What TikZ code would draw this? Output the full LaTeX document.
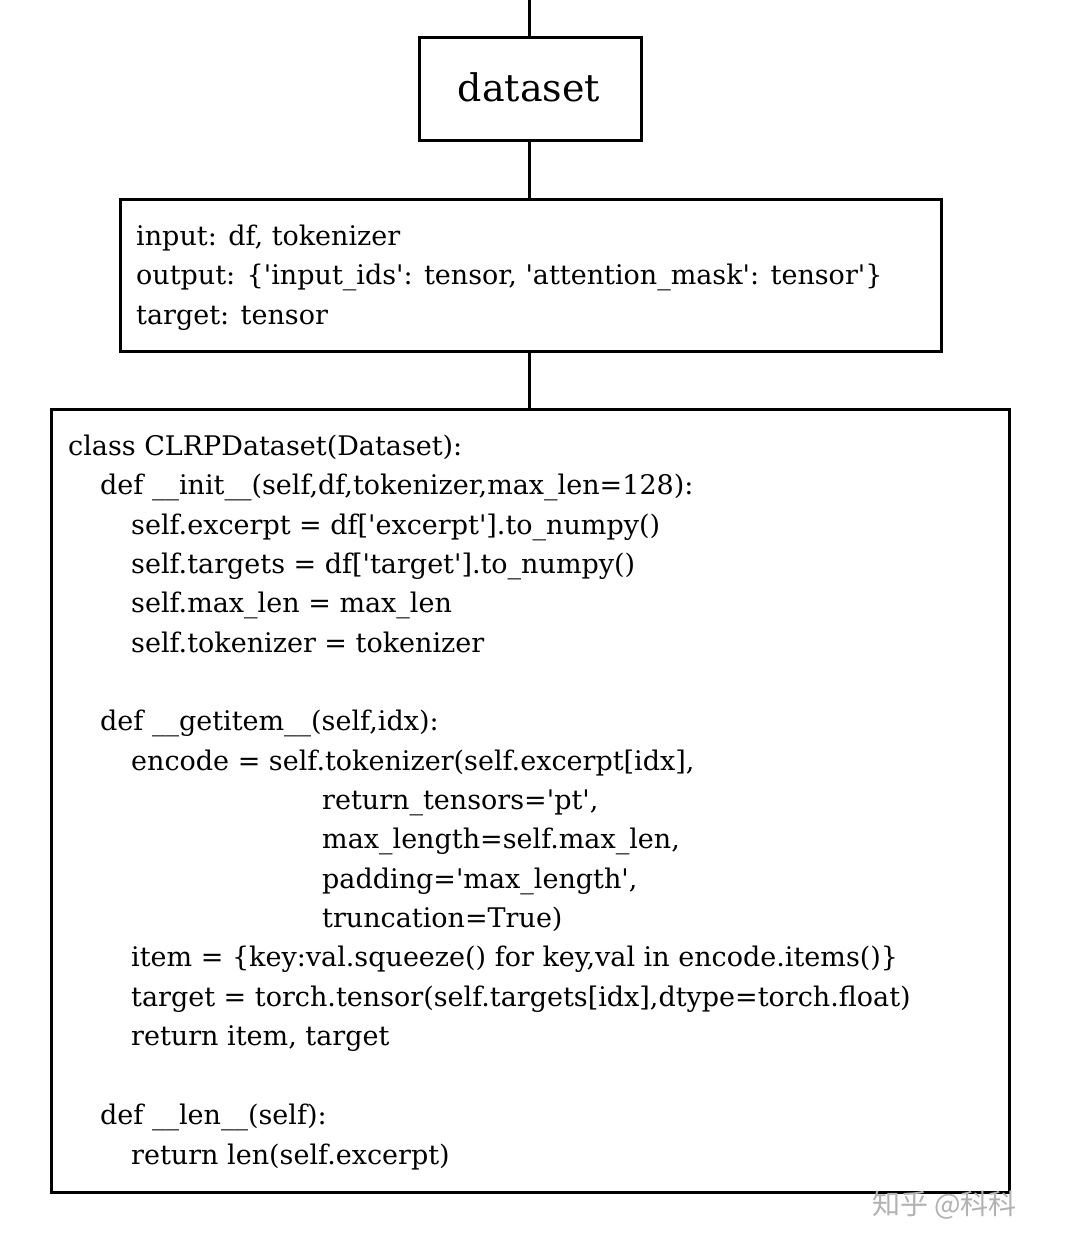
\documentclass[tikz,border=0pt]{standalone}
\usepackage{fontspec}
\newfontfamily\code{DejaVu Serif}
\newfontfamily\cjk{Noto Sans CJK SC}
\begin{document}
\begin{tikzpicture}[x=1pt,y=-1pt,
  box/.style={draw,line width=3pt},
  ln/.style={anchor=base west,inner sep=0pt,font=\code\fontsize{27}{30}\selectfont}]
\useasboundingbox (0,0) rectangle (1068,1248);
\fill[white] (0,0) rectangle (1068,1248);
\draw[box] (419,37) rectangle (641,140);
\node[anchor=base,inner sep=0pt,font=\code\fontsize{38}{40}\selectfont] (ds) at (529,101) {dataset};
\draw[box] (120,199) rectangle (941,351);
\draw[box] (51,409) rectangle (1009,1192);
\coordinate (top) at (529,0);
\coordinate (a1) at (529,37); \coordinate (a2) at (529,140);
\coordinate (b1) at (529,199); \coordinate (b2) at (529,351);
\coordinate (c1) at (529,409);
\draw[line width=3pt] (top) -- (a1) (a2) -- (b1) (b2) -- (c1);
\node[ln] (i1) at (136,245) {input: df, tokenizer};
\node[ln] (i2) at (136,284) {output: \{'input\_ids': tensor, 'attention\_mask': tensor'\}};
\node[ln] (i3) at (136,324) {target: tensor};
\node[ln] (l1) at (68,455) {class CLRPDataset(Dataset):};
\node[ln] (l2) at (100,494) {def \_\_init\_\_(self,df,tokenizer,max\_len=128):};
\node[ln] (l3) at (131,534) {self.excerpt = df['excerpt'].to\_numpy()};
\node[ln] (l4) at (131,573) {self.targets = df['target'].to\_numpy()};
\node[ln] (l5) at (131,612) {self.max\_len = max\_len};
\node[ln] (l6) at (131,652) {self.tokenizer = tokenizer};
\node[ln] (l7) at (100,730) {def \_\_getitem\_\_(self,idx):};
\node[ln] (l8) at (131,770) {encode = self.tokenizer(self.excerpt[idx],};
\node[ln] (l9) at (322,809) {return\_tensors='pt',};
\node[ln] (l10) at (322,848) {max\_length=self.max\_len,};
\node[ln] (l11) at (322,888) {padding='max\_length',};
\node[ln] (l12) at (322,927) {truncation=True)};
\node[ln] (l13) at (131,966) {item = \{key:val.squeeze() for key,val in encode.items()\}};
\node[ln] (l14) at (131,1006) {target = torch.tensor(self.targets[idx],dtype=torch.float)};
\node[ln] (l15) at (131,1045) {return item, target};
\node[ln] (l16) at (100,1124) {def \_\_len\_\_(self):};
\node[ln] (l17) at (131,1164) {return len(self.excerpt)};
\node[anchor=base west,inner sep=0pt,text=gray!60,font=\cjk\fontsize{28}{30}\selectfont] (wm) at (872,1214) {知乎 @科科};
\end{tikzpicture}
\end{document}
